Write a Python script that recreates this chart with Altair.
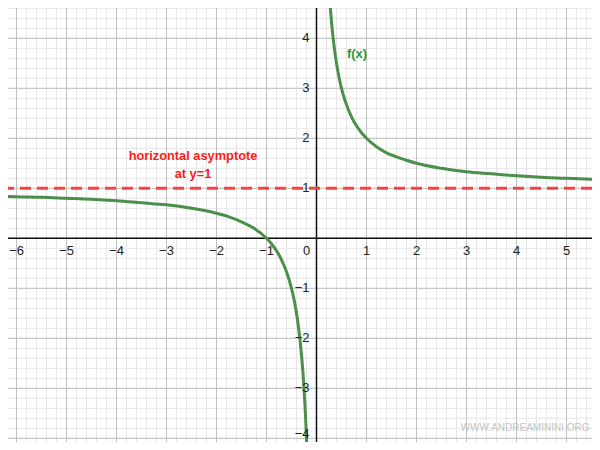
import altair as alt
import pandas as pd
import numpy as np

# --- data ---
right_x = [0.25, 0.28, 0.3, 0.33, 0.36, 0.4, 0.45, 0.5, 0.55, 0.6, 0.7, 0.8, 0.9, 1.0,
           1.2, 1.4, 1.6, 1.8, 2.0, 2.5, 3.0, 3.5, 4.0, 4.5, 5.0, 5.6]
right_y = [5.0, 4.57, 4.33, 4.03, 3.78, 3.5, 3.22, 3.0, 2.82, 2.67, 2.43, 2.25, 2.11, 2.0,
           1.83, 1.71, 1.63, 1.56, 1.5, 1.4, 1.33, 1.29, 1.25, 1.22, 1.2, 1.18]
left_x = [-6.3, -6.0, -5.5, -5.0, -4.5, -4.0, -3.5, -3.0, -2.5, -2.0, -1.75, -1.5, -1.25, -1.0,
          -0.9, -0.8, -0.7, -0.6, -0.5, -0.45, -0.4, -0.35, -0.3, -0.27, -0.24, -0.22, -0.2, -0.18]
left_y = [0.84, 0.83, 0.82, 0.8, 0.78, 0.75, 0.71, 0.67, 0.6, 0.5, 0.43, 0.33, 0.2, 0.0,
          -0.11, -0.25, -0.43, -0.67, -1.0, -1.22, -1.5, -1.86, -2.33, -2.7, -3.17, -3.55, -4.0, -4.56]
asymptote_y = [1]

x_ticks = [-6, -5, -4, -3, -2, -1, 1, 2, 3, 4, 5]
y_ticks = [-3, -2, -1, 1, 2, 3, 4]
y_low_tick = [-4]

W, H = 584, 434
PX = 50.0
x_domain = [-6.17, -6.17 + W / PX]
y_domain = [4.606 - H / PX, 4.606]

MINUS = "\u2212"
def lab(v):
    return (MINUS + str(abs(v))) if v < 0 else str(v)

minor_x = [round(v, 1) for v in np.arange(-6.2, 5.61, 0.2)]
minor_y = [round(v, 1) for v in np.arange(-4.2, 4.61, 0.2)]
major_x = list(range(-6, 6))
major_y = list(range(-4, 5))

xs = alt.Scale(domain=x_domain, nice=False, zero=False)
ys = alt.Scale(domain=y_domain, nice=False, zero=False)

def X(field="x"):
    return alt.X(f"{field}:Q", scale=xs, axis=None)

def Y(field="y"):
    return alt.Y(f"{field}:Q", scale=ys, axis=None)

minor_v = alt.Chart(pd.DataFrame({"x": minor_x})).mark_rule(color="#e6e6e6", strokeWidth=1, clip=True).encode(x=X())
minor_h = alt.Chart(pd.DataFrame({"y": minor_y})).mark_rule(color="#e6e6e6", strokeWidth=1, clip=True).encode(y=Y())
major_v = alt.Chart(pd.DataFrame({"x": major_x})).mark_rule(color="#c0c0c0", strokeWidth=1, clip=True).encode(x=X())
major_h = alt.Chart(pd.DataFrame({"y": major_y})).mark_rule(color="#c0c0c0", strokeWidth=1, clip=True).encode(y=Y())
axis_v = alt.Chart(pd.DataFrame({"x": [0]})).mark_rule(color="#111111", strokeWidth=1.5).encode(x=X())
axis_h = alt.Chart(pd.DataFrame({"y": [0]})).mark_rule(color="#111111", strokeWidth=1.5).encode(y=Y())

curve_df = pd.DataFrame({
    "x": left_x + right_x,
    "y": left_y + right_y,
    "branch": ["left"] * len(left_x) + ["right"] * len(right_x),
    "order": list(range(len(left_x))) + list(range(len(right_x))),
})
curve = alt.Chart(curve_df).mark_line(color="#4a8f4a", strokeWidth=3, clip=True,
                                      interpolate="monotone").encode(
    x=X(), y=Y(), detail="branch:N", order="order:Q")

asym = alt.Chart(pd.DataFrame({"y": asymptote_y})).mark_rule(
    color="#f24444", strokeWidth=3, strokeDash=[11, 6]).encode(y=Y())

font = "Liberation Sans"
xlab_df = pd.DataFrame({"x": x_ticks, "y": [0] * len(x_ticks), "t": [lab(v) for v in x_ticks]})
xlabs = alt.Chart(xlab_df).mark_text(font=font, fontSize=13, color="#222222", dy=13,
                                     align="center", baseline="middle").encode(x=X(), y=Y(), text="t:N")
ylab_df = pd.DataFrame({"x": [0] * len(y_ticks), "y": y_ticks, "t": [lab(v) for v in y_ticks]})
ylabs = alt.Chart(ylab_df).mark_text(font=font, fontSize=13, color="#222222", dx=-7,
                                     align="right", baseline="middle").encode(x=X(), y=Y(), text="t:N")
ylow_df = pd.DataFrame({"x": [0], "y": y_low_tick, "t": [lab(v) for v in y_low_tick]})
ylow = alt.Chart(ylow_df).mark_text(font=font, fontSize=13, color="#222222", dx=-7, dy=3,
                                    align="right", baseline="bottom").encode(x=X(), y=Y(), text="t:N")
zero = alt.Chart(pd.DataFrame({"x": [0], "y": [0], "t": ["0"]})).mark_text(
    font=font, fontSize=13, color="#222222", dx=-10, dy=13, align="center", baseline="middle"
).encode(x=X(), y=Y(), text="t:N")

ann_df = pd.DataFrame({
    "x": [-2.47, -2.47],
    "y": [1.65, 1.29],
    "t": ["horizontal asymptote", "at y=1"],
})
ann = alt.Chart(ann_df).mark_text(font=font, fontSize=12.8, fontWeight="bold", color="#ff1a1a",
                                  align="center", baseline="middle").encode(x=X(), y=Y(), text="t:N")

fx = alt.Chart(pd.DataFrame({"x": [0.81], "y": [3.69], "t": ["f(x)"]})).mark_text(
    font=font, fontSize=13, fontWeight="bold", color="#2e9a2e", align="center", baseline="middle"
).encode(x=X(), y=Y(), text="t:N")

wm = alt.Chart(pd.DataFrame({"x": [5.46], "y": [-3.79], "t": ["WWW.ANDREAMININI.ORG"]})).mark_text(
    font=font, fontSize=10, color="#c4c4c4", align="right", baseline="middle"
).encode(x=X(), y=Y(), text="t:N")

chart = alt.layer(
    minor_v, minor_h, major_v, major_h, axis_v, axis_h, curve, asym,
    xlabs, ylabs, ylow, zero, ann, fx, wm
).properties(
    width=W, height=H, padding=0, background="white",
    autosize=alt.AutoSizeParams(type="none"),
).configure_view(stroke=None)

chart.save("out.html", embed_options={"renderer": "svg", "actions": False})
